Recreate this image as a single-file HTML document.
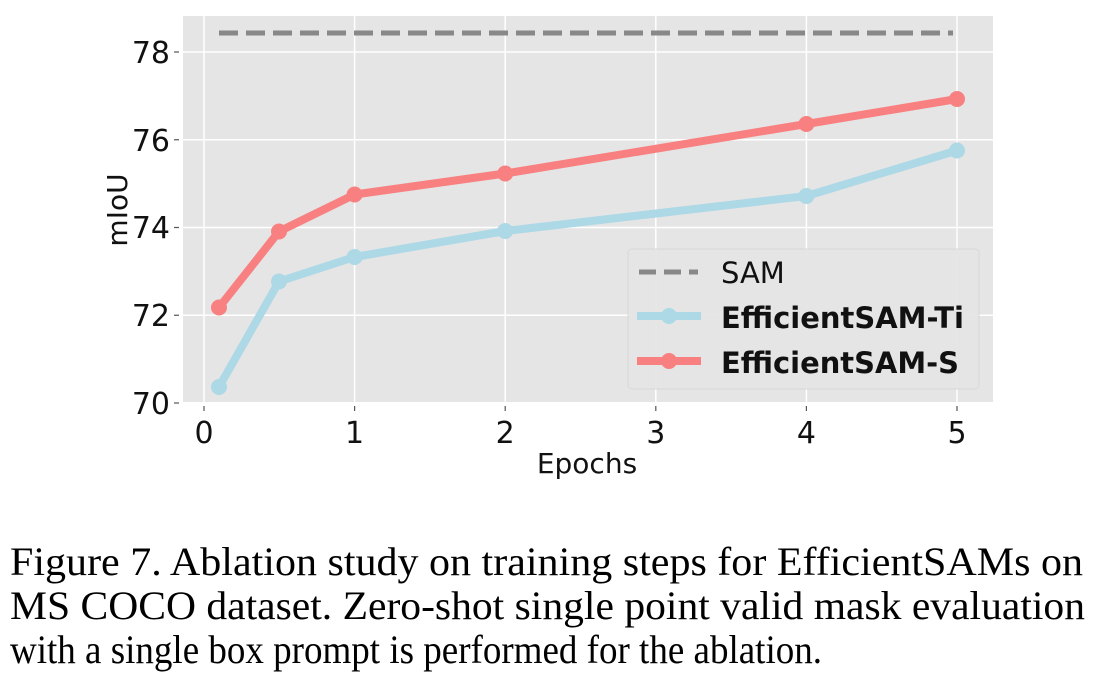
<!DOCTYPE html>
<html><head><meta charset="utf-8"><style>
html,body{margin:0;padding:0;background:#fff;}
svg{display:block;}
.t{font-family:"DejaVu Sans","Liberation Sans",sans-serif;fill:#111;}
.c{font-family:"Liberation Serif",serif;font-size:40px;fill:#000;}
</style></head><body>
<svg width="1100" height="680" viewBox="0 0 1100 680" xmlns="http://www.w3.org/2000/svg">
<rect x="183" y="16" width="810" height="386" fill="#e5e5e5"/>
<g stroke="#fff" stroke-width="1.5">
<line x1="204" y1="16" x2="204" y2="402"/><line x1="354.6" y1="16" x2="354.6" y2="402"/>
<line x1="505.2" y1="16" x2="505.2" y2="402"/><line x1="655.8" y1="16" x2="655.8" y2="402"/>
<line x1="806.4" y1="16" x2="806.4" y2="402"/><line x1="957" y1="16" x2="957" y2="402"/>
<line x1="183" y1="52" x2="993" y2="52"/><line x1="183" y1="139.75" x2="993" y2="139.75"/>
<line x1="183" y1="227.5" x2="993" y2="227.5"/><line x1="183" y1="315.25" x2="993" y2="315.25"/>
</g>
<g stroke="#555" stroke-width="1.2">
<line x1="204" y1="406" x2="204" y2="411"/><line x1="354.6" y1="406" x2="354.6" y2="411"/>
<line x1="505.2" y1="406" x2="505.2" y2="411"/><line x1="655.8" y1="406" x2="655.8" y2="411"/>
<line x1="806.4" y1="406" x2="806.4" y2="411"/><line x1="957" y1="406" x2="957" y2="411"/>
<line x1="174" y1="52" x2="179" y2="52"/><line x1="174" y1="139.75" x2="179" y2="139.75"/>
<line x1="174" y1="227.5" x2="179" y2="227.5"/><line x1="174" y1="315.25" x2="179" y2="315.25"/>
<line x1="174" y1="403" x2="179" y2="403"/>
</g>
<g class="t" font-size="30" text-anchor="middle">
<text x="204" y="443">0</text><text x="354.6" y="443">1</text><text x="505.2" y="443">2</text>
<text x="655.8" y="443">3</text><text x="806.4" y="443">4</text><text x="957" y="443">5</text>
</g>
<g class="t" font-size="30" text-anchor="end">
<text x="170" y="63">78</text><text x="170" y="151">76</text><text x="170" y="238">74</text>
<text x="170" y="326">72</text><text x="170" y="414">70</text>
</g>
<text class="t" font-size="28" x="587" y="473" text-anchor="middle">Epochs</text>
<text class="t" font-size="28" transform="translate(127,210) rotate(-90)" text-anchor="middle">mIoU</text>
<line x1="219" y1="33" x2="953" y2="33" stroke="#888" stroke-width="5" stroke-dasharray="19,8"/>
<g fill="none" stroke-width="8" stroke-linejoin="round">
<polyline stroke="#add8e6" points="219,387 279,281.5 354.6,257 505.2,231 806.4,196 957,150.5"/>
<polyline stroke="#f88080" points="219,307.5 279,231.5 354.6,194.5 505.2,173.5 806.4,124 957,99"/>
</g>
<g fill="#add8e6"><circle cx="219" cy="387" r="8"/><circle cx="279" cy="281.5" r="8"/><circle cx="354.6" cy="257" r="8"/><circle cx="505.2" cy="231" r="8"/><circle cx="806.4" cy="196" r="8"/><circle cx="957" cy="150.5" r="8"/></g>
<g fill="#f88080"><circle cx="219" cy="307.5" r="8"/><circle cx="279" cy="231.5" r="8"/><circle cx="354.6" cy="194.5" r="8"/><circle cx="505.2" cy="173.5" r="8"/><circle cx="806.4" cy="124" r="8"/><circle cx="957" cy="99" r="8"/></g>
<rect x="628" y="249" width="351" height="140" rx="4" fill="#e5e5e5" stroke="#d8d8d8" stroke-width="1" opacity="0.95"/>
<line x1="639" y1="272" x2="698" y2="272" stroke="#888" stroke-width="5" stroke-dasharray="17,8"/>
<line x1="637" y1="316" x2="701" y2="316" stroke="#add8e6" stroke-width="8"/><circle cx="669" cy="316" r="8" fill="#add8e6"/>
<line x1="637" y1="361" x2="701" y2="361" stroke="#f88080" stroke-width="8"/><circle cx="669" cy="361" r="8" fill="#f88080"/>
<text class="t" font-size="29" x="721" y="283">SAM</text>
<text class="t" font-size="29" font-weight="bold" x="721" y="328" textLength="243" lengthAdjust="spacingAndGlyphs">EfficientSAM-Ti</text>
<text class="t" font-size="29" font-weight="bold" x="721" y="373" textLength="238" lengthAdjust="spacingAndGlyphs">EfficientSAM-S</text>
<text class="c" x="10" y="575" textLength="1073" lengthAdjust="spacingAndGlyphs">Figure 7.  Ablation study on training steps for EfficientSAMs on</text>
<text class="c" x="10" y="619" textLength="1075" lengthAdjust="spacingAndGlyphs">MS COCO dataset. Zero-shot single point valid mask evaluation</text>
<text class="c" x="10" y="663" textLength="812" lengthAdjust="spacingAndGlyphs">with a single box prompt is performed for the ablation.</text>
</svg>
</body></html>
